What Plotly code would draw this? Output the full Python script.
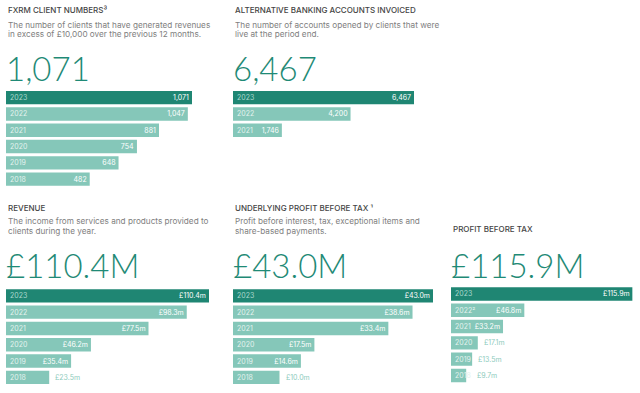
import plotly.graph_objects as go

# ---------------- data ----------------
years6 = ["2023", "2022", "2021", "2020", "2019", "2018"]
fxrm_clients = [1071, 1047, 881, 754, 648, 482]

alt_years = ["2023", "2022", "2021"]
alt_accounts = [6467, 4200, 1746]

revenue_m = [110.4, 98.3, 77.5, 46.2, 35.4, 23.5]
underlying_pbt_m = [43.0, 38.6, 33.4, 17.5, 14.6, 10.0]

pbt_years = ["2023", "2022²", "2021", "2020", "2019", "2018"]
pbt_m = [115.9, 46.8, 33.2, 17.1, 13.5, 9.7]

titles = [
    "FXRM CLIENT NUMBERS³",
    "ALTERNATIVE BANKING ACCOUNTS INVOICED",
    "REVENUE",
    "UNDERLYING PROFIT BEFORE TAX ¹",
    "PROFIT BEFORE TAX",
]
subtitles = [
    ["The number of clients that have generated revenues",
     "in excess of £10,000 over the previous 12 months."],
    ["The number of accounts opened by clients that were",
     "live at the period end."],
    ["The income from services and products provided to",
     "clients during the year."],
    ["Profit before interest, tax, exceptional items and",
     "share-based payments."],
    [],
]

def fmt_count(v):
    return f"{v:,}"

def fmt_money(v):
    return f"£{v:.1f}m"

def fmt_money_big(v):
    return f"£{v:.1f}M"

panels_data = [
    (years6, fxrm_clients, fmt_count, fmt_count),
    (alt_years, alt_accounts, fmt_count, fmt_count),
    (years6, revenue_m, fmt_money, fmt_money_big),
    (years6, underlying_pbt_m, fmt_money, fmt_money_big),
    (pbt_years, pbt_m, fmt_money, fmt_money_big),
]

# ---------------- layout (pixels) ----------------
W_PX, H_PX = 640, 393
PITCH = 16.3
panel_layout = [
    dict(x0=6, w=186, bar_top=89.5, title_y=9.6, sub_y=[25, 34.5], big_y=68.5),
    dict(x0=233, w=181, bar_top=89.5, title_y=9.6, sub_y=[25, 34.5], big_y=68.5),
    dict(x0=6, w=203, bar_top=287.7, title_y=207.7, sub_y=[221, 231], big_y=265),
    dict(x0=233, w=200, bar_top=287.7, title_y=207.7, sub_y=[221, 231], big_y=265),
    dict(x0=451, w=181.6, bar_top=285.8, title_y=229.3, sub_y=[], big_y=264.5),
]

DARK = "#1f8673"
LIGHT = "#85c7b9"
BIG_COLOR = "#1f8a76"
TITLE_COLOR = "#454545"
SUB_COLOR = "#808080"
OUT_COLOR = "#8ecbbd"
FONT = "Inter"
LBL = 7
CHAR_W = 4.3  # approx. label glyph width at LBL size

def px_x(px):
    return px / W_PX

def px_y(py):
    return 1 - py / H_PX

def est_w(s):
    return CHAR_W * len(s)

fig = go.Figure()
annotations = []
layout_axes = {}

for i, ((yrs, vals, fmt, fmt_big), pl) in enumerate(zip(panels_data, panel_layout), start=1):
    n = len(vals)
    vmax = max(vals)
    labels = [fmt(v) for v in vals]
    xa = "x" if i == 1 else f"x{i}"
    ya = "y" if i == 1 else f"y{i}"
    inside_text = []
    for j, (y, v, lab) in enumerate(zip(yrs, vals, labels)):
        bar_px = v / vmax * pl["w"]
        year_end = 3 + est_w(y)
        if bar_px >= year_end + est_w(lab) + 6:
            inside_text.append(lab)
        else:
            inside_text.append("")
            annotations.append(dict(
                x=v, y=j, xref=xa, yref=ya, xanchor="left", yanchor="middle",
                xshift=4 + max(0, year_end - bar_px), text=lab, showarrow=False,
                font=dict(size=LBL, family=FONT, color=OUT_COLOR),
            ))
    colors = [DARK] + [LIGHT] * (n - 1)
    fig.add_trace(go.Bar(
        x=vals, y=yrs, orientation="h",
        marker=dict(color=colors, line=dict(width=0)),
        width=0.82,
        text=inside_text, textposition="inside", insidetextanchor="end",
        textangle=0,
        insidetextfont=dict(color="white", size=LBL, family=FONT),
        cliponaxis=False, constraintext="none",
        hoverinfo="skip", showlegend=False,
        xaxis=xa, yaxis=ya,
    ))
    key = "" if i == 1 else str(i)
    layout_axes[f"xaxis{key}"] = dict(
        domain=[px_x(pl["x0"]), px_x(pl["x0"] + pl["w"])],
        range=[0, vmax], visible=False, fixedrange=True,
        anchor=ya,
    )
    layout_axes[f"yaxis{key}"] = dict(
        domain=[px_y(pl["bar_top"] + n * PITCH), px_y(pl["bar_top"])],
        type="category", range=[n - 0.5, -0.5], visible=False, fixedrange=True,
        anchor=xa,
    )
    # year labels inside bars (category index used as position)
    for j, y in enumerate(yrs):
        annotations.append(dict(
            x=0, y=j, xref=xa, yref=ya, xanchor="left", yanchor="middle",
            xshift=2, text=y, showarrow=False,
            font=dict(size=LBL, family=FONT,
                      color="#a9d8cd" if j == 0 else "#e3f2ee"),
        ))
    # title
    annotations.append(dict(
        x=px_x(pl["x0"]), y=px_y(pl["title_y"]), xref="paper", yref="paper",
        xanchor="left", yanchor="middle", text=titles[i - 1], showarrow=False,
        font=dict(size=8, family=FONT, color=TITLE_COLOR, weight=500),
    ))
    for line, sy in zip(subtitles[i - 1], pl["sub_y"]):
        annotations.append(dict(
            x=px_x(pl["x0"]), y=px_y(sy), xref="paper", yref="paper",
            xanchor="left", yanchor="middle", text=line, showarrow=False,
            font=dict(size=8.2, family=FONT, color=SUB_COLOR),
        ))
    annotations.append(dict(
        x=px_x(pl["x0"] - 2), y=px_y(pl["big_y"]), xref="paper", yref="paper",
        xanchor="left", yanchor="middle", text=fmt_big(vals[0]), showarrow=False,
        font=dict(size=33, family="Lato Light, Lato", color=BIG_COLOR, weight=300),
    ))

fig.update_layout(
    width=W_PX, height=H_PX,
    margin=dict(l=0, r=0, t=0, b=0),
    paper_bgcolor="white", plot_bgcolor="white",
    barmode="overlay",
    annotations=annotations,
    **layout_axes,
)

fig.write_html(
    "out.html",
    config={"displayModeBar": False},
    post_script="document.body.style.margin='0';document.body.style.padding='0';",
)
